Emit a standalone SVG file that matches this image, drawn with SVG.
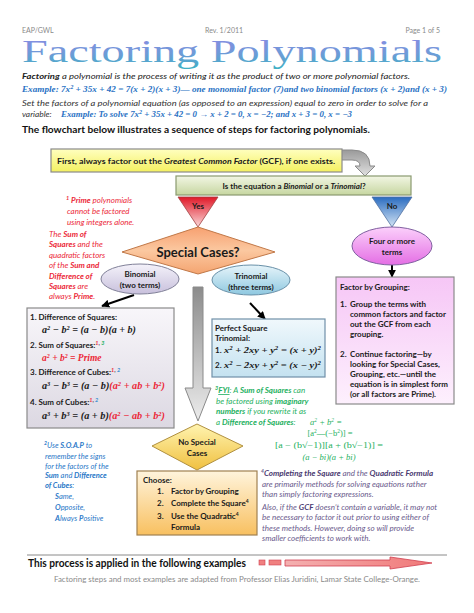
<svg xmlns="http://www.w3.org/2000/svg" width="474" height="613" viewBox="0 0 474 613">
<defs>
<linearGradient id="gTitle" x1="0" y1="0" x2="0" y2="1"><stop offset="0" stop-color="#8c88e4"/><stop offset="0.55" stop-color="#6f9bd8"/><stop offset="1" stop-color="#3fb0c4"/></linearGradient>
<linearGradient id="gYellow" x1="0" y1="0" x2="0" y2="1"><stop offset="0" stop-color="#ffffc0"/><stop offset="1" stop-color="#f4f060"/></linearGradient>
<linearGradient id="gGreen" x1="0" y1="0" x2="0" y2="1"><stop offset="0" stop-color="#f2f6e4"/><stop offset="1" stop-color="#c6d6a0"/></linearGradient>
<linearGradient id="gYes" x1="0" y1="0" x2="0" y2="1"><stop offset="0" stop-color="#e01828"/><stop offset="1" stop-color="#fbd8d8"/></linearGradient>
<linearGradient id="gNo" x1="0" y1="0" x2="0" y2="1"><stop offset="0" stop-color="#2a6cc0"/><stop offset="1" stop-color="#d4e4f4"/></linearGradient>
<linearGradient id="gOrange" x1="0" y1="0" x2="0" y2="1"><stop offset="0" stop-color="#f7a070"/><stop offset="0.5" stop-color="#fbc8a0"/><stop offset="1" stop-color="#f4a470"/></linearGradient>
<linearGradient id="gLav" x1="0" y1="0" x2="0" y2="1"><stop offset="0" stop-color="#f4f2fa"/><stop offset="1" stop-color="#c8c0dc"/></linearGradient>
<linearGradient id="gCyan" x1="0" y1="0" x2="0" y2="1"><stop offset="0" stop-color="#e6f4fa"/><stop offset="1" stop-color="#8ec8e0"/></linearGradient>
<linearGradient id="gMag" x1="0" y1="0" x2="0" y2="1"><stop offset="0" stop-color="#fbd0fb"/><stop offset="1" stop-color="#e46ee4"/></linearGradient>
<linearGradient id="gPink" x1="0" y1="0" x2="0" y2="1"><stop offset="0" stop-color="#f6c6f6"/><stop offset="1" stop-color="#fdf0fd"/></linearGradient>
<linearGradient id="gBox" x1="0" y1="0" x2="0" y2="1"><stop offset="0" stop-color="#f8f6fa"/><stop offset="1" stop-color="#dcd8e2"/></linearGradient>
<linearGradient id="gBlueBox" x1="0" y1="0" x2="0" y2="1"><stop offset="0" stop-color="#f0f8fc"/><stop offset="1" stop-color="#c4e2f0"/></linearGradient>
<linearGradient id="gGold" x1="0" y1="0" x2="0" y2="1"><stop offset="0" stop-color="#fff4b0"/><stop offset="1" stop-color="#f0c040"/></linearGradient>
<linearGradient id="gChoose" x1="0" y1="0" x2="0" y2="1"><stop offset="0" stop-color="#fff4dc"/><stop offset="1" stop-color="#f8c060"/></linearGradient>
<linearGradient id="gGrayA" x1="0" y1="0" x2="0" y2="1"><stop offset="0" stop-color="#8c8c8c"/><stop offset="1" stop-color="#ececec"/></linearGradient>
<linearGradient id="gGrayB" x1="0" y1="0" x2="0" y2="1"><stop offset="0" stop-color="#9a9a9a"/><stop offset="1" stop-color="#e0e0e0"/></linearGradient>
<linearGradient id="gRed" x1="0" y1="0" x2="1" y2="0"><stop offset="0" stop-color="#f4b0b0"/><stop offset="1" stop-color="#f07878"/></linearGradient>
<marker id="ah" viewBox="0 0 10 10" refX="9" refY="5" markerWidth="4" markerHeight="4" orient="auto"><path d="M0,0 L10,5 L0,10 Z" fill="#000"/></marker>
</defs>
<style>
text{font-family:Lato,"Liberation Sans",sans-serif;}
text.serif{font-family:"Liberation Serif","DejaVu Serif",serif;}
.hdr{font-size:7px;fill:#8a8a8a;}
.it{font-style:italic;}
.b{font-weight:bold;}
text.m{font-family:"Liberation Serif","DejaVu Serif",serif;font-style:italic;font-weight:bold;}
.ex{fill:#2a72c4;}
.lbl{font-size:8px;font-weight:bold;fill:#1a1a1a;}
.red{fill:#ec2838;font-size:8px;font-style:italic;}
.grn{fill:#1eb060;font-size:8px;font-style:italic;}
.blu{fill:#2a78c8;font-size:7.5px;font-style:italic;}
.pur{fill:#6a5a8c;font-size:8px;font-style:italic;}
.box{stroke:#8a8a8a;stroke-width:1.2;}
.conn{stroke:#000;stroke-width:2;fill:none;marker-end:url(#ah);}
</style>

<!-- header -->
<text class="hdr" x="22" y="33">EAP/GWL</text>
<text class="hdr" x="205" y="33">Rev. 1/2011</text>
<text class="hdr" x="440" y="33" text-anchor="end">Page 1 of 5</text>
<text class="serif" x="22" y="62" font-size="31" fill="url(#gTitle)" textLength="420" lengthAdjust="spacingAndGlyphs">Factoring Polynomials</text>

<!-- intro -->
<text x="22" y="79" font-size="8.4" fill="#222" class="it" textLength="388" lengthAdjust="spacingAndGlyphs"><tspan class="b">Factoring</tspan> a polynomial is the process of writing it as the product of two or more polynomial factors.</text>
<text x="22" y="92" font-size="8" class="m ex" textLength="425" lengthAdjust="spacingAndGlyphs">Example:  7x<tspan baseline-shift="super" font-size="5.5">2</tspan> + 35x + 42 = 7(x + 2)(x + 3)— one monomial factor (7)and two binomial factors (x + 2)and (x + 3)</text>
<text x="22" y="106" font-size="8.4" fill="#333" class="it" textLength="406" lengthAdjust="spacingAndGlyphs">Set the factors of a polynomial equation (as opposed to an expression) equal to zero in order to solve for a</text>
<text x="22" y="117" font-size="8.4" fill="#333" class="it">variable:</text>
<text x="61" y="117" font-size="8" class="m ex" textLength="291" lengthAdjust="spacingAndGlyphs">Example:  To solve  7x<tspan baseline-shift="super" font-size="5.5">2</tspan> + 35x + 42 = 0 → x + 2 = 0,  x = −2; and x + 3 = 0,  x = −3</text>
<text x="22" y="133" font-size="10" font-weight="bold" fill="#111" textLength="348" lengthAdjust="spacingAndGlyphs">The flowchart below illustrates a sequence of steps for factoring polynomials.</text>

<!-- notes -->
<g id="note-prime">
<text class="red" x="66" y="203"><tspan font-size="5.5" font-weight="bold" baseline-shift="super">1</tspan> <tspan font-weight="bold">Prime</tspan> polynomials</text>
<text class="red" x="67" y="214">cannot be factored</text>
<text class="red" x="67" y="225">using integers alone.</text>
<text class="red" x="49" y="237">The <tspan font-weight="bold">Sum of</tspan></text>
<text class="red" x="49" y="247"><tspan font-weight="bold">Squares</tspan> and the</text>
<text class="red" x="49" y="258">quadratic factors</text>
<text class="red" x="49" y="268">of the <tspan font-weight="bold">Sum and</tspan></text>
<text class="red" x="49" y="279"><tspan font-weight="bold">Difference of</tspan></text>
<text class="red" x="49" y="289"><tspan font-weight="bold">Squares</tspan> are</text>
<text class="red" x="49" y="299">always <tspan font-weight="bold">Prime</tspan>.</text>
</g>

<g id="note-fyi">
<text class="grn" x="215" y="393"><tspan font-size="5.5" font-weight="bold" baseline-shift="super">3</tspan><tspan font-weight="bold" text-decoration="underline">FYI</tspan>:   A <tspan font-weight="bold">Sum of Squares</tspan> can</text>
<text class="grn" x="216" y="404">be factored using <tspan font-weight="bold">imaginary</tspan></text>
<text class="grn" x="216" y="414"><tspan font-weight="bold">numbers</tspan> if you rewrite it as</text>
<text class="grn" x="216" y="425">a <tspan font-weight="bold">Difference of Squares</tspan>:</text>
<text class="serif" x="310" y="425" font-style="italic" font-size="8.5" fill="#1eb060">a<tspan baseline-shift="super" font-size="5.5">2</tspan> + b<tspan baseline-shift="super" font-size="5.5">2</tspan> =</text>
<text class="serif" x="330" y="436" text-anchor="middle" font-size="8.5" fill="#1eb060">[a<tspan baseline-shift="super" font-size="5.5">2</tspan>—(−b<tspan baseline-shift="super" font-size="5.5">2</tspan>)] =</text>
<text class="serif" x="329" y="448" text-anchor="middle" font-size="8.5" fill="#1eb060" textLength="108" lengthAdjust="spacingAndGlyphs">[a − (b√−1)][a + (b√−1)] =</text>
<text class="serif" x="329" y="460" text-anchor="middle" font-style="italic" font-size="8.5" fill="#1eb060">(a − bi)(a + bi)</text>
</g>

<g id="note-soap">
<text class="blu" x="44" y="448"><tspan font-size="5" font-weight="bold" baseline-shift="super">2</tspan>Use <tspan font-weight="bold">S.O.A.P</tspan> to</text>
<text class="blu" x="45" y="459">remember the signs</text>
<text class="blu" x="45" y="469">for the factors of the</text>
<text class="blu" x="45" y="478"><tspan font-weight="bold">Sum</tspan> and <tspan font-weight="bold">Difference</tspan></text>
<text class="blu" x="45" y="488"><tspan font-weight="bold">of Cubes</tspan>:</text>
<text class="blu" x="55" y="499"><tspan font-weight="bold">S</tspan>ame,</text>
<text class="blu" x="55" y="510"><tspan font-weight="bold">O</tspan>pposite,</text>
<text class="blu" x="55" y="521"><tspan font-weight="bold">A</tspan>lways <tspan font-weight="bold">P</tspan>ositive</text>
</g>

<g id="note-4">
<text class="pur" x="261" y="476"><tspan font-size="5" font-weight="bold" baseline-shift="super">4</tspan><tspan font-weight="bold" fill="#4a3a70">Completing the Square</tspan> and the <tspan font-weight="bold" fill="#4a3a70">Quadratic Formula</tspan></text>
<text class="pur" x="262" y="487">are primarily methods for solving equations rather</text>
<text class="pur" x="262" y="497">than simply factoring expressions.</text>
<text class="pur" x="262" y="510">Also, if the <tspan font-weight="bold" fill="#4a3a70">GCF</tspan> doesn’t contain a variable, it may not</text>
<text class="pur" x="262" y="520">be necessary to factor it out prior to using either of</text>
<text class="pur" x="262" y="531">these methods. However, doing so will provide</text>
<text class="pur" x="262" y="541">smaller coefficients to work with.</text>
</g>

<!-- connectors -->
<g id="connectors">
<path d="M335,150 L352,150 Q370,150 370,166 L375,166 L365,176 L355,166 L360,166 Q360,160 352,160 L335,160 Z" fill="url(#gGrayB)" stroke="#8a8a8a" stroke-width="1"/>
<path d="M193,287 L203,287 L203,388 L211,388 L198,421 L185,388 L193,388 Z" fill="url(#gGrayA)" stroke="#8a8a8a" stroke-width="1"/>
<line class="conn" x1="392" y1="265" x2="392" y2="277"/>
<line class="conn" x1="134" y1="295" x2="102" y2="306"/>
<line class="conn" x1="250" y1="303" x2="265" y2="319"/>
</g>

<!-- nodes -->
<g id="gcf">
<rect x="51" y="149" width="291" height="23" fill="url(#gYellow)" class="box"/>
<text class="lbl" x="196" y="164" text-anchor="middle" textLength="278" lengthAdjust="spacingAndGlyphs">First, always factor out the <tspan font-style="italic">Greatest Common Factor</tspan> (GCF), if one exists.</text>
</g>
<g id="question">
<rect x="176" y="176" width="235" height="19" fill="url(#gGreen)" stroke="#8a9a70" stroke-width="1.2"/>
<text class="lbl" x="294" y="189" text-anchor="middle">Is the equation a <tspan font-style="italic">Binomial</tspan> or a <tspan font-style="italic">Trinomial</tspan>?</text>
</g>
<g id="yes">
<polygon points="178,197 218,197 198,227" fill="url(#gYes)" stroke="#a04040" stroke-width="0.8"/>
<text class="lbl" x="198" y="209" text-anchor="middle" font-size="7">Yes</text>
</g>
<g id="no">
<polygon points="372,197 412,197 392,227" fill="url(#gNo)" stroke="#5070a0" stroke-width="0.8"/>
<text class="lbl" x="392" y="209" text-anchor="middle" font-size="7">No</text>
</g>
<g id="special">
<polygon points="122,252 198,227 275,252 198,274" fill="url(#gOrange)" stroke="#c07848" stroke-width="1"/>
<text x="198" y="257" text-anchor="middle" font-size="13" font-weight="bold" fill="#1a1a1a">Special Cases?</text>
</g>
<g id="binomial">
<ellipse cx="140" cy="279" rx="39" ry="15" fill="url(#gLav)" stroke="#808098" stroke-width="1"/>
<text class="lbl" x="140" y="277" text-anchor="middle" font-size="7.5">Binomial</text>
<text class="lbl" x="140" y="288" text-anchor="middle" font-size="7.5">(two terms)</text>
</g>
<g id="trinomial">
<ellipse cx="251" cy="280" rx="39" ry="15" fill="url(#gCyan)" stroke="#6890a8" stroke-width="1"/>
<text class="lbl" x="251" y="279" text-anchor="middle" font-size="7.5">Trinomial</text>
<text class="lbl" x="251" y="290" text-anchor="middle" font-size="7.5">(three terms)</text>
</g>
<g id="four">
<ellipse cx="392" cy="246" rx="40" ry="19" fill="url(#gMag)" stroke="#8060a0" stroke-width="1"/>
<text class="lbl" x="392" y="244" text-anchor="middle" font-size="7.5">Four or more</text>
<text class="lbl" x="392" y="255" text-anchor="middle" font-size="7.5">terms</text>
</g>
<g id="grouping">
<rect x="336" y="277" width="118" height="127" fill="url(#gPink)" class="box"/>
<text class="lbl" x="340" y="290">Factor by Grouping:</text>
<text class="lbl" x="340" y="307">1.</text>
<text class="lbl" x="350" y="307">Group the terms with</text>
<text class="lbl" x="350" y="317">common factors and factor</text>
<text class="lbl" x="350" y="327">out the GCF from each</text>
<text class="lbl" x="350" y="337">grouping.</text>
<text class="lbl" x="340" y="357">2.</text>
<text class="lbl" x="350" y="357">Continue factoring—by</text>
<text class="lbl" x="350" y="367">looking for Special Cases,</text>
<text class="lbl" x="350" y="377">Grouping, etc.—until the</text>
<text class="lbl" x="350" y="387">equation is in simplest form</text>
<text class="lbl" x="350" y="397">(or all factors are Prime).</text>
</g>
<g id="cases">
<rect x="27" y="308" width="147" height="120" fill="url(#gBox)" class="box"/>
<text class="lbl" x="30" y="320">1.  Difference of Squares:</text>
<text class="m" x="42" y="333" font-size="9.5" fill="#1a1a1a" textLength="94" lengthAdjust="spacingAndGlyphs">a<tspan baseline-shift="super" font-size="6">2</tspan> − b<tspan baseline-shift="super" font-size="6">2</tspan> = (a − b)(a + b)</text>
<text class="lbl" x="30" y="348">2.  Sum of Squares:<tspan baseline-shift="super" font-size="5.5" fill="#ec2838" font-style="italic">1</tspan><tspan baseline-shift="super" font-size="5.5">, </tspan><tspan baseline-shift="super" font-size="5.5" fill="#1eb060" font-style="italic">3</tspan></text>
<text class="m" x="42" y="361" font-size="9.5" fill="#ec2838">a<tspan baseline-shift="super" font-size="6">2</tspan> + b<tspan baseline-shift="super" font-size="6">2</tspan> = Prime</text>
<text class="lbl" x="30" y="375">3.  Difference of Cubes:<tspan baseline-shift="super" font-size="5.5" fill="#ec2838" font-style="italic">1</tspan><tspan baseline-shift="super" font-size="5.5">, </tspan><tspan baseline-shift="super" font-size="5.5" fill="#3a90d0" font-style="italic">2</tspan></text>
<text class="m" x="42" y="389" font-size="9.5" fill="#1a1a1a" textLength="123" lengthAdjust="spacingAndGlyphs">a<tspan baseline-shift="super" font-size="6">3</tspan> − b<tspan baseline-shift="super" font-size="6">3</tspan> = (a − b)<tspan fill="#ec2838">(a<tspan baseline-shift="super" font-size="6">2</tspan> + ab + b<tspan baseline-shift="super" font-size="6">2</tspan>)</tspan></text>
<text class="lbl" x="30" y="405">4.  Sum of Cubes:<tspan baseline-shift="super" font-size="5.5" fill="#ec2838" font-style="italic">1</tspan><tspan baseline-shift="super" font-size="5.5">, </tspan><tspan baseline-shift="super" font-size="5.5" fill="#3a90d0" font-style="italic">2</tspan></text>
<text class="m" x="42" y="419" font-size="9.5" fill="#1a1a1a" textLength="123" lengthAdjust="spacingAndGlyphs">a<tspan baseline-shift="super" font-size="6">3</tspan> + b<tspan baseline-shift="super" font-size="6">3</tspan> = (a + b)<tspan fill="#ec2838">(a<tspan baseline-shift="super" font-size="6">2</tspan> − ab + b<tspan baseline-shift="super" font-size="6">2</tspan>)</tspan></text>
</g>
<g id="perfect">
<rect x="212" y="319" width="113" height="58" fill="url(#gBlueBox)" stroke="#7090a8" stroke-width="1.2"/>
<text class="lbl" x="215" y="331">Perfect Square</text>
<text class="lbl" x="215" y="341">Trinomial:</text>
<text class="lbl" x="215" y="353">1.</text>
<text class="m" x="224" y="353" font-size="8.5" fill="#1a1a1a" textLength="97" lengthAdjust="spacingAndGlyphs">x<tspan baseline-shift="super" font-size="5.5">2</tspan> + 2xy + y<tspan baseline-shift="super" font-size="5.5">2</tspan> = (x + y)<tspan baseline-shift="super" font-size="5.5">2</tspan></text>
<text class="lbl" x="215" y="368">2.</text>
<text class="m" x="224" y="368" font-size="8.5" fill="#1a1a1a" textLength="97" lengthAdjust="spacingAndGlyphs">x<tspan baseline-shift="super" font-size="5.5">2</tspan> − 2xy + y<tspan baseline-shift="super" font-size="5.5">2</tspan> = (x − y)<tspan baseline-shift="super" font-size="5.5">2</tspan></text>
</g>
<g id="nospecial">
<polygon points="152,446 197,424 243,446 197,470" fill="url(#gGold)" stroke="#b09040" stroke-width="1"/>
<text class="lbl" x="197" y="445" text-anchor="middle" font-size="7.5">No Special</text>
<text class="lbl" x="197" y="456" text-anchor="middle" font-size="7.5">Cases</text>
</g>
<g id="choose">
<rect x="137" y="471" width="120" height="64" fill="url(#gChoose)" stroke="#a08050" stroke-width="1.2"/>
<text class="lbl" x="143" y="483">Choose:</text>
<text class="lbl" x="157" y="494">1.</text>
<text class="lbl" x="171" y="494">Factor by Grouping</text>
<text class="lbl" x="157" y="506">2.</text>
<text class="lbl" x="171" y="506">Complete the Square<tspan baseline-shift="super" font-size="5">4</tspan></text>
<text class="lbl" x="157" y="519">3.</text>
<text class="lbl" x="171" y="519">Use the Quadratic<tspan baseline-shift="super" font-size="5">4</tspan></text>
<text class="lbl" x="171" y="530">Formula</text>
</g>

<!-- bottom -->
<line x1="27" y1="555" x2="447" y2="555" stroke="#8a8a8a" stroke-width="1"/>
<text x="28" y="567" font-size="10.5" font-weight="bold" fill="#111" textLength="218" lengthAdjust="spacingAndGlyphs">This process is applied in the following examples</text>
<rect x="259" y="560" width="6" height="5" fill="#f08080" stroke="#d04050" stroke-width="0.6"/>
<rect x="269" y="560" width="12" height="5" fill="#f08080" stroke="#d04050" stroke-width="0.6"/>
<path d="M285,560 L390,560 L390,557 L432,563 L390,569 L390,566 L285,566 Z" fill="url(#gRed)" stroke="#d04050" stroke-width="0.8"/>
<text x="237" y="582" text-anchor="middle" font-size="7" fill="#8a8a8a" textLength="366" lengthAdjust="spacingAndGlyphs">Factoring steps and most examples are adapted from Professor Elias Juridini, Lamar State College-Orange.</text>
</svg>
